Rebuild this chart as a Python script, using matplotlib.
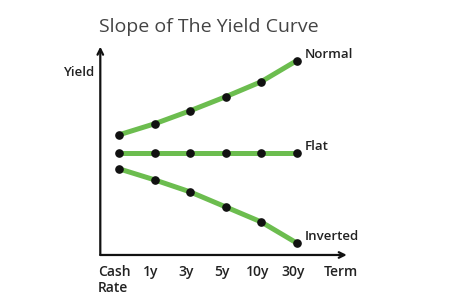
import matplotlib.pyplot as plt
from matplotlib.transforms import ScaledTranslation

terms = ['Cash\nRate', '1y', '3y', '5y', '10y', '30y']
normal = [6.0, 6.55, 7.2, 7.9, 8.65, 9.7]
flat = [5.1, 5.1, 5.1, 5.1, 5.1, 5.1]
inverted = [4.3, 3.75, 3.15, 2.4, 1.65, 0.6]
curve_names = ['Normal', 'Flat', 'Inverted']

green = '#6cbd4f'
text_color = '#222222'
plt.rcParams['font.family'] = ['Open Sans', 'DejaVu Sans']

fig = plt.figure(figsize=(4.74, 3.05), dpi=100)
ax = fig.add_axes([0.2116, 0.164, 0.52, 0.683])

x = list(range(len(terms)))
for series, name in zip([normal, flat, inverted], curve_names):
    ax.plot(x, series, color=green, lw=3.6, solid_capstyle='round', zorder=1)
    ax.plot(x, series, 'o', color='#111111', ms=5.2, zorder=2)
    ax.text(x[-1] + 0.22, series[-1] + 0.3, name, fontsize=9.5, fontweight='semibold',
            color=text_color, ha='left', va='center')

ax.set_xlim(-0.53, 6.41)
ax.set_ylim(0, 10.4)
for s in ax.spines.values():
    s.set_visible(False)

# axis arrows
ax.annotate('', xy=(1, 0), xytext=(0, 0), xycoords='axes fraction',
            arrowprops=dict(arrowstyle='->', color='#111111', lw=1.6, shrinkA=0, shrinkB=0))
ax.annotate('', xy=(0, 1), xytext=(0, 0), xycoords='axes fraction',
            arrowprops=dict(arrowstyle='->', color='#111111', lw=1.6, shrinkA=0, shrinkB=0))

ax.set_xticks(x)
ax.set_xticklabels(terms, fontsize=10, fontweight='semibold', color=text_color,
                   multialignment='left', va='top')
ax.tick_params(axis='x', length=0, pad=7)
ax.set_yticks([])
for i, lab in enumerate(ax.get_xticklabels()):
    dx = -0.05 if i == 0 else -0.04
    lab.set_transform(lab.get_transform() + ScaledTranslation(dx, 0, fig.dpi_scale_trans))

ax.text(6.25, -0.5, 'Term', fontsize=10, fontweight='semibold', color=text_color,
        ha='center', va='top')
ax.text(-0.7, 9.1, 'Yield', fontsize=9.5, fontweight='semibold', color=text_color,
        ha='right', va='center')

fig.text(0.44, 0.91, 'Slope of The Yield Curve', fontsize=14, color='#444444',
         ha='center', va='center')

fig.savefig('out.png', dpi=100)
